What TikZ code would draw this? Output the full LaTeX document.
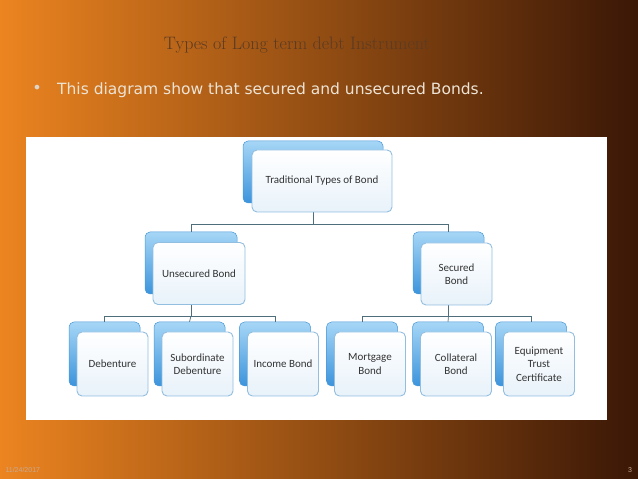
\documentclass[tikz,border=0pt]{standalone}
\usepackage{fontspec}
\newfontfamily\carl{Carlito}
\newfontfamily\dejav{DejaVu Sans}
\newfontfamily\libsans{Liberation Sans}
\definecolor{bgA}{HTML}{EC8420}
\definecolor{bgB}{HTML}{B25A14}
\definecolor{bgC}{HTML}{3A1706}
\definecolor{bkTop}{HTML}{A6D6F6}
\definecolor{bkBot}{HTML}{3C94DC}
\definecolor{bkLine}{HTML}{4A98D6}
\definecolor{frLine}{HTML}{92BEE0}
\definecolor{frBot}{HTML}{E8F2FA}
\definecolor{connC}{HTML}{4E6E7C}
\definecolor{titleC}{HTML}{5C3B22}
\definecolor{bulC}{HTML}{EDE4D6}
\definecolor{dateC}{HTML}{C8AA90}
\tikzset{
  backbox/.style={draw=bkLine, line width=0.5pt, rounded corners=5pt, top color=bkTop, bottom color=bkBot, inner sep=0pt},
  frontbox/.style={draw=frLine, line width=0.9pt, rounded corners=5pt, top color=white, bottom color=frBot, align=center, text=black!80, font=\carl\fontsize{11}{13.5}\selectfont, inner sep=2pt},
  bigsize/.style={minimum width=140pt, minimum height=62pt},
  midsize/.style={minimum width=#1, minimum height=62pt},
  smallsize/.style={minimum width=71pt, minimum height=64pt},
  conn/.style={draw=connC, line width=0.7pt}
}
\begin{document}
\begin{tikzpicture}[x=1pt,y=1pt]
\shade[left color=bgA, middle color=bgB, right color=bgC] (0,0) rectangle (638,479);
\useasboundingbox (0,0) rectangle (638,479);
% panel
\fill[white] (26,59) rectangle (607,342);
% title and bullet text
\node[font=\fontsize{18}{20}\selectfont, text=titleC] (title) at (297,434) {Types of Long term debt Instrument};
\node[text=bulC!85!gray, font=\dejav\fontsize{16}{18}\selectfont] (bullet) at (37,390) {•};
\node[anchor=west, text=bulC, font=\dejav\fontsize{15.5}{18}\selectfont, inner sep=0pt] (btext) at (57,389) {This diagram show that secured and unsecured Bonds.};
\node[anchor=west, text=dateC, font=\libsans\fontsize{7}{8}\selectfont] (date) at (2,9) {11/24/2017};
\node[text=dateC, font=\libsans\fontsize{7}{8}\selectfont] (page) at (630,9) {3};
% bus coordinates
\coordinate (bus1) at (0,255);
\coordinate (bus2) at (0,163);
% back boxes
\node[backbox, bigsize] (topb) at (313,307) {};
\node[backbox, midsize=92pt] (unb) at (191,216) {};
\node[backbox, midsize=71pt] (secb) at (448.5,216) {};
\node[backbox, smallsize] (debb) at (104.5,125) {};
\node[backbox, smallsize] (subb) at (189.5,125) {};
\node[backbox, smallsize] (incb) at (275,125) {};
\node[backbox, smallsize] (morb) at (362,125) {};
\node[backbox, smallsize] (colb) at (448,125) {};
\node[backbox, smallsize] (equb) at (531,125) {};
% connectors
\draw[conn] (topb.south) -- (topb.south |- bus1) -| (unb.north);
\draw[conn] (topb.south |- bus1) -| (secb.north);
\draw[conn] (unb.south) -- (unb.south |- bus2) -| (debb.north);
\draw[conn] (unb.south |- bus2) -| (incb.north);
\draw[conn] (unb.south |- bus2) -- (subb.north);
\draw[conn] (secb.south) -- (secb.south |- bus2) -| (morb.north);
\draw[conn] (secb.south |- bus2) -| (equb.north);
\draw[conn] (secb.south |- bus2) -- (colb.north);
% front boxes
\node[frontbox, bigsize] (top) at (322,298) {Traditional Types of Bond};
\node[frontbox, midsize=92pt] (un) at (199,205.5) {Unsecured Bond};
\node[frontbox, midsize=71pt] (sec) at (456.5,205) {Secured\\Bond};
\node[frontbox, smallsize] (deb) at (112.5,115) {Debenture};
\node[frontbox, smallsize] (sub) at (197.5,115) {Subordinate\\Debenture};
\node[frontbox, smallsize] (inc) at (283,115) {Income Bond};
\node[frontbox, smallsize] (mor) at (370,115) {Mortgage\\Bond};
\node[frontbox, smallsize] (col) at (456,115) {Collateral\\Bond};
\node[frontbox, smallsize] (equ) at (539,115) {Equipment\\Trust\\Certificate};
\end{tikzpicture}
\end{document}
